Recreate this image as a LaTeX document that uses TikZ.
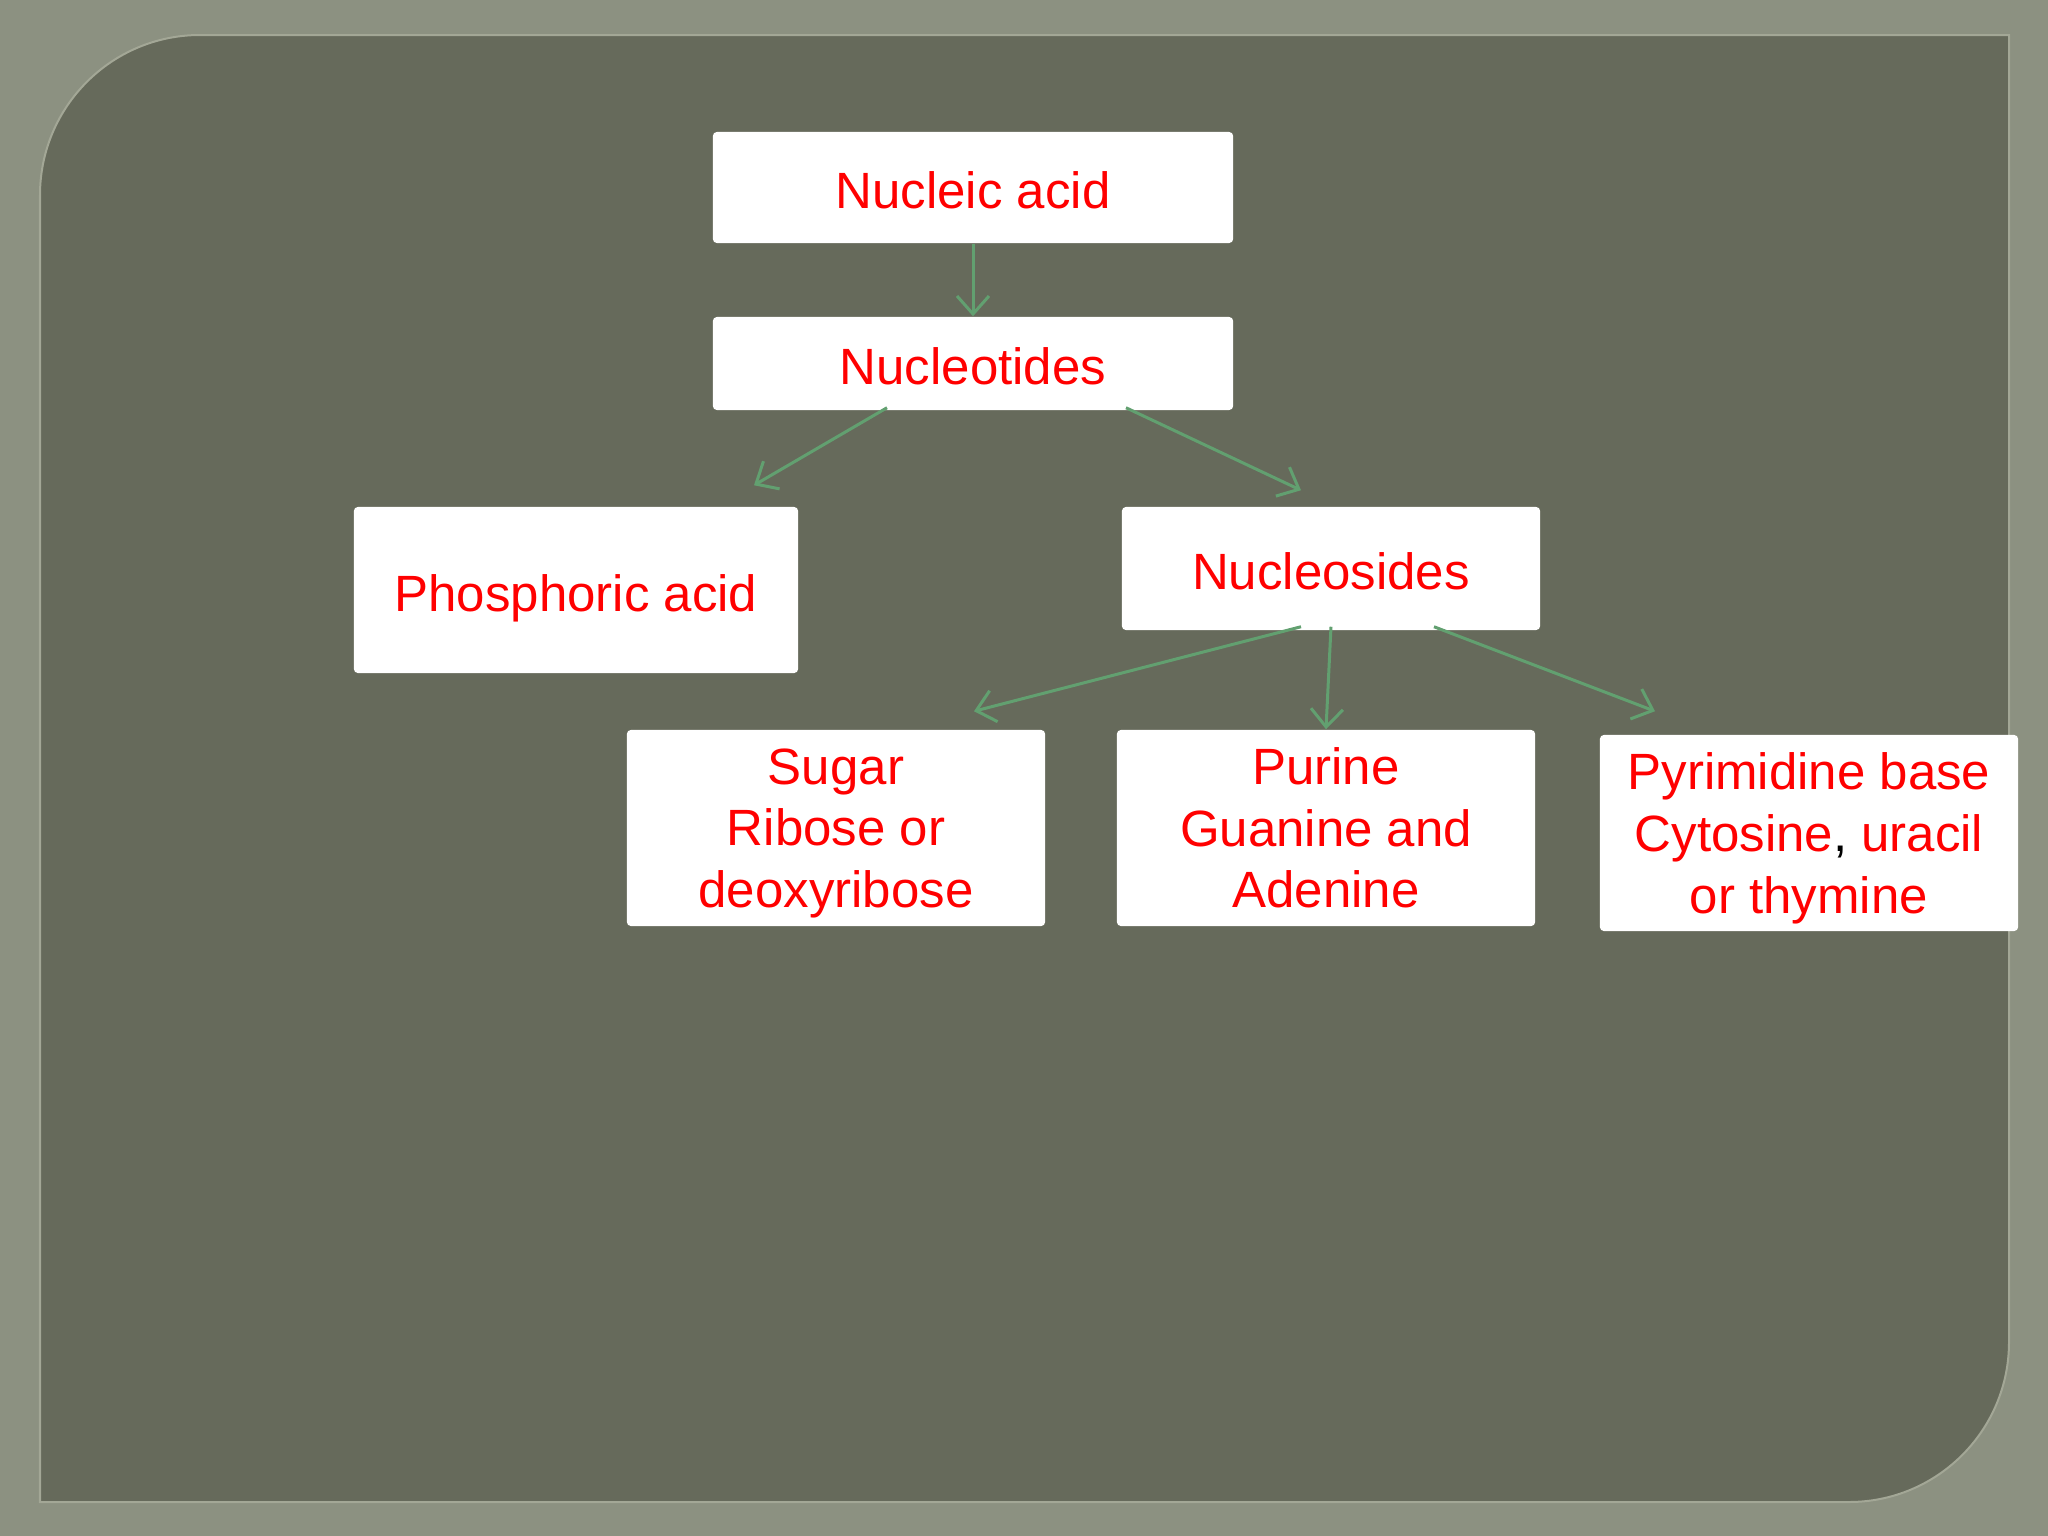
\documentclass[tikz,border=0pt]{standalone}
\usepackage{fontspec}
\setmainfont{Liberation Sans}
\usetikzlibrary{arrows.meta, calc}
\definecolor{frame}{HTML}{8C9181}
\definecolor{panel}{HTML}{666A5B}
\definecolor{rim}{HTML}{A3A796}
\definecolor{link}{HTML}{62A070}
\definecolor{txt}{HTML}{FF0000}
\newcommand{\nodepth}[1]{\raisebox{0pt}[\height][0pt]{#1}}

\begin{document}
\begin{tikzpicture}[x=0.01cm, y=-0.01cm,
    every node/.style={font=\fontsize{14.5pt}{17.5pt}\selectfont},
    blk/.style={rectangle, rounded corners=0.04cm, fill=white, text=txt,
                align=center, inner sep=0pt},
    one/.style={text height=0.43cm, text depth=0.01cm},
    arr/.style={-{Straight Barb[length=0.18cm, width=0.32cm]}, line width=0.03cm, color=link},
]
\useasboundingbox (0,0) rectangle (2048,1536);

% ================================================================ slide
\fill[frame] (0,0) rectangle (2048,1536);
\fill[panel, draw=rim, line width=0.02cm] (40,1502) -- (40,195)
    arc[start angle=180, end angle=270, radius=160] -- (2009,35) -- (2009,1342)
    arc[start angle=0, end angle=90, radius=160] -- cycle;

% ================================================================ top
\node[blk, one, minimum width=5.2cm, minimum height=1.11cm] (na) at (973,187.5) {Nucleic acid};
\node[blk, one, minimum width=5.2cm, minimum height=0.93cm] (nt) at (973,363.5) {Nucleotides};
\draw[arr] (na.south) -- (nt.north);

% ================================================================ middle
\node[blk, one, minimum width=4.44cm, minimum height=1.66cm] (pa) at (576,590) {Phosphoric acid};
\node[blk, one, minimum width=4.18cm, minimum height=1.23cm] (ns) at (1331,568.5) {Nucleosides};
\draw[arr] ($(nt.south)+(-86,-3)$) -- ($(pa.north)+(178,-21)$);
\draw[arr] ($(nt.south)+(153,-3)$) -- ($(ns.north)+(-30,-16)$);

% ================================================================ bottom
\node[blk, minimum width=4.18cm, minimum height=1.96cm] (sg) at (836,828)
    {Sugar\\ Ribose or\\ \nodepth{deoxyribose}};
\node[blk, minimum width=4.18cm, minimum height=1.96cm] (pu) at (1326,828)
    {Purine\\ Guanine and\\ Adenine};
\node[blk, minimum width=4.18cm, minimum height=1.96cm] (py) at (1809,833)
    {Pyrimidine base\\ Cytosine{\color{black},} uracil\\ \nodepth{or thymine}};
\draw[arr] ($(ns.south)+(-30,-4)$) -- ($(sg.north)+(138,-18)$);
\draw[arr] ($(ns.south)+(0,-4)$) -- (pu.north);
\draw[arr] ($(ns.south)+(103,-4)$) -- ($(py.north)+(-154,-23)$);
\end{tikzpicture}
\end{document}
